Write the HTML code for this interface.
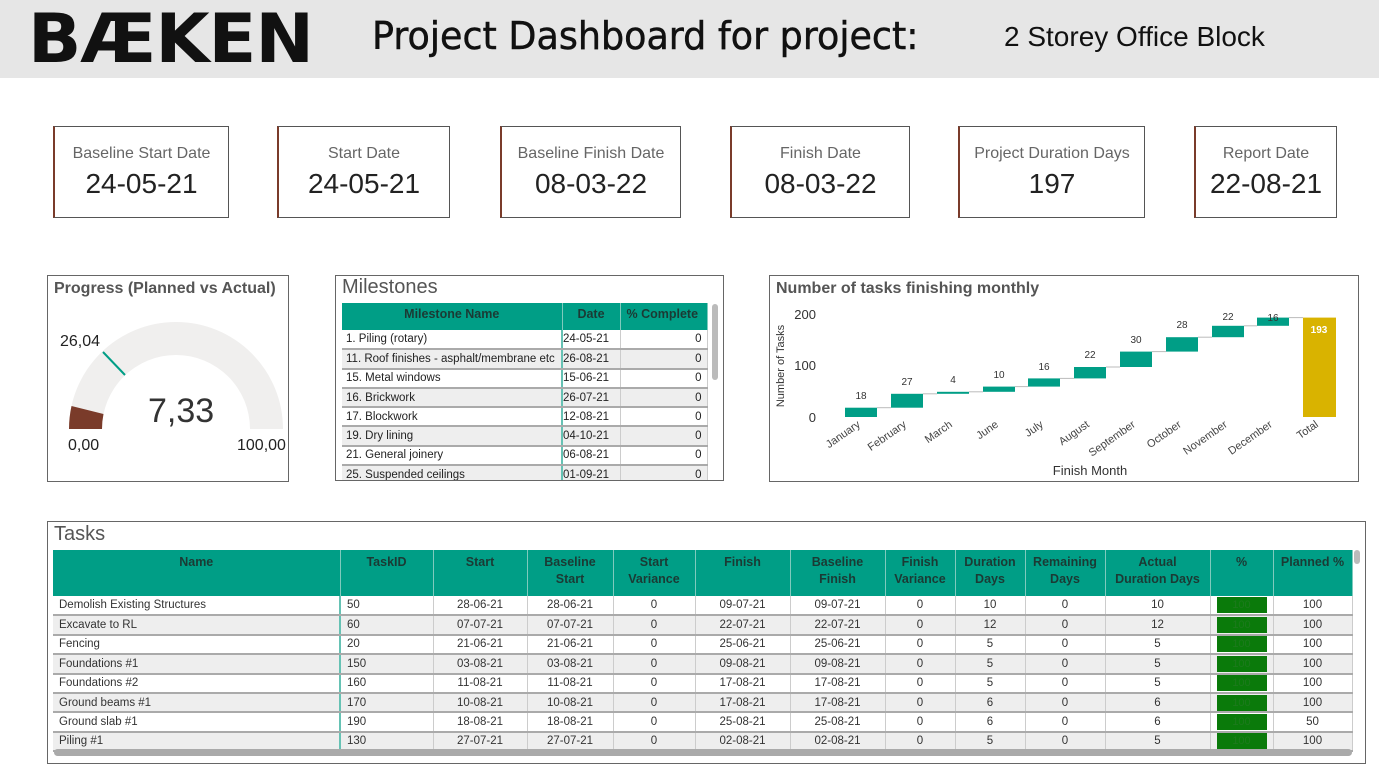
<!DOCTYPE html>
<html><head><meta charset="utf-8"><style>
*{margin:0;padding:0;box-sizing:border-box}
body{width:1379px;height:766px;background:#fff;position:relative;overflow:hidden;font-family:"Liberation Sans",sans-serif;color:#222}
.a{position:absolute}
.hdr{left:0;top:0;width:1379px;height:78px;background:#e6e6e6}
.kpi{border:1px solid #555;border-left:2px solid #7a3b2a;text-align:center}
.kpi .t{font-size:16px;color:#666;margin-top:18px}
.kpi .v{font-size:28px;color:#222;margin-top:5px}
.box{border:1px solid #666}
table{border-collapse:collapse;table-layout:fixed;position:absolute}
th{background:#009e86;color:#1b3a34;font-weight:bold;vertical-align:top;border-right:1px solid #7fcabd}
td{border-bottom:2px solid #aaa;border-right:1px solid #ccc;white-space:nowrap;overflow:hidden}
tr:nth-child(odd) td{background:#eee}
.tk th{font-size:12.5px;height:46px;padding-top:4px;line-height:17px}
.tk td{font-size:11.5px;height:19.4px;text-align:center;color:#333}
.tk td.l{text-align:left;padding-left:6px;border-right:2px solid #66c2b4}
.tk td.id{text-align:left;padding-left:6px}
.pc{padding:0 6px!important}
.pc div{background:#0a7a0a;color:#1d7a1d;height:16px;line-height:16px;font-size:11px}
.ms th{font-size:12.5px;height:27px;padding-top:4px}
.ms td{font-size:11.5px;height:19.3px}
</style></head><body>
<div class="a hdr"></div>
<div class="a" style="left:28px;top:0px;font-size:68px;font-weight:900;letter-spacing:-1px;color:#111;font-family:'DejaVu Sans',sans-serif;transform:scaleX(1.03);transform-origin:left">BÆKEN</div>
<div class="a" style="left:372px;top:14px;font-size:38px;color:#111;font-family:'DejaVu Sans',sans-serif;transform:scaleX(0.96);transform-origin:left;-webkit-text-stroke:0.5px #111">Project Dashboard for project:</div>
<div class="a" style="left:1004px;top:21px;font-size:28px;color:#111">2 Storey Office Block</div>

<div class="a kpi" style="left:53px;top:126px;width:176px;height:92px"><div class="t">Baseline Start Date</div><div class="v">24-05-21</div></div>
<div class="a kpi" style="left:277px;top:126px;width:173px;height:92px"><div class="t">Start Date</div><div class="v">24-05-21</div></div>
<div class="a kpi" style="left:500px;top:126px;width:181px;height:92px"><div class="t">Baseline Finish Date</div><div class="v">08-03-22</div></div>
<div class="a kpi" style="left:730px;top:126px;width:180px;height:92px"><div class="t">Finish Date</div><div class="v">08-03-22</div></div>
<div class="a kpi" style="left:958px;top:126px;width:187px;height:92px"><div class="t">Project Duration Days</div><div class="v">197</div></div>
<div class="a kpi" style="left:1194px;top:126px;width:143px;height:92px"><div class="t">Report Date</div><div class="v">22-08-21</div></div>

<!-- Gauge -->
<div class="a box" style="left:47px;top:275px;width:242px;height:207px"></div>
<div class="a" style="left:54px;top:280px;font-size:16px;color:#555;font-weight:bold">Progress (Planned vs Actual)</div>
<svg class="a" style="left:0;top:0" width="1379" height="766">
<path d="M69 429 A107 107 0 0 1 283 429 L250 429 A74 74 0 0 0 102 429 Z" fill="#f0efee"/>
<path d="M69 429 A107 107 0 0 1 71.5 406 L103.5 414 A74 74 0 0 0 102 429 Z" fill="#7a3b2a"/>
<line x1="103" y1="352" x2="125" y2="375" stroke="#009e86" stroke-width="2"/>
</svg>
<div class="a" style="left:60px;top:333px;font-size:16px">26,04</div>
<div class="a" style="left:148px;top:392px;font-size:34px;color:#333">7,33</div>
<div class="a" style="left:68px;top:437px;font-size:16px">0,00</div>
<div class="a" style="left:237px;top:437px;font-size:16px">100,00</div>

<!-- Milestones -->
<div class="a box" style="left:335px;top:275px;width:389px;height:206px;overflow:hidden">
<div class="a" style="left:6px;top:0px;font-size:20px;color:#555">Milestones</div>
<table class="ms" style="left:6px;top:27px;width:365px">
<colgroup><col style="width:220px"><col style="width:58px"><col style="width:87px"></colgroup>
<tr><th>Milestone Name</th><th>Date</th><th style="text-align:left;padding-left:6px">% Complete</th></tr>
<tr><td style="padding-left:4px;border-right:2px solid #66c2b4">1. Piling (rotary)</td><td>24-05-21</td><td style="text-align:right;padding-right:5px">0</td></tr>
<tr><td style="padding-left:4px;border-right:2px solid #66c2b4">11. Roof finishes - asphalt/membrane etc</td><td>26-08-21</td><td style="text-align:right;padding-right:5px">0</td></tr>
<tr><td style="padding-left:4px;border-right:2px solid #66c2b4">15. Metal windows</td><td>15-06-21</td><td style="text-align:right;padding-right:5px">0</td></tr>
<tr><td style="padding-left:4px;border-right:2px solid #66c2b4">16. Brickwork</td><td>26-07-21</td><td style="text-align:right;padding-right:5px">0</td></tr>
<tr><td style="padding-left:4px;border-right:2px solid #66c2b4">17. Blockwork</td><td>12-08-21</td><td style="text-align:right;padding-right:5px">0</td></tr>
<tr><td style="padding-left:4px;border-right:2px solid #66c2b4">19. Dry lining</td><td>04-10-21</td><td style="text-align:right;padding-right:5px">0</td></tr>
<tr><td style="padding-left:4px;border-right:2px solid #66c2b4">21. General joinery</td><td>06-08-21</td><td style="text-align:right;padding-right:5px">0</td></tr>
<tr><td style="padding-left:4px;border-right:2px solid #66c2b4">25. Suspended ceilings</td><td>01-09-21</td><td style="text-align:right;padding-right:5px">0</td></tr>
</table>
<div class="a" style="left:376px;top:28px;width:6px;height:76px;background:#bbb;border-radius:3px"></div>
</div>

<!-- Waterfall -->
<div class="a box" style="left:769px;top:275px;width:590px;height:207px"></div>
<div class="a" style="left:776px;top:280px;font-size:16px;color:#555;font-weight:bold">Number of tasks finishing monthly</div>
<svg class="a" style="left:0;top:0" width="1379" height="766" font-family="Liberation Sans" font-size="10">
<g fill="#009e86">
<rect x="845" y="407.7" width="32" height="9.3"/>
<rect x="891" y="393.8" width="32" height="13.9"/>
<rect x="937" y="391.8" width="32" height="2"/>
<rect x="983" y="386.6" width="32" height="5.2"/>
<rect x="1028" y="378.4" width="32" height="8.2"/>
<rect x="1074" y="367" width="32" height="11.4"/>
<rect x="1120" y="351.6" width="32" height="15.4"/>
<rect x="1166" y="337.2" width="32" height="14.4"/>
<rect x="1212" y="325.8" width="32" height="11.4"/>
<rect x="1257" y="317.6" width="32" height="8.2"/>
</g>
<rect x="1303" y="317.6" width="33" height="99.4" fill="#d9b300"/>
<g stroke="#bbb" stroke-width="1">
<line x1="877" y1="407.7" x2="891" y2="407.7"/><line x1="923" y1="393.8" x2="937" y2="393.8"/>
<line x1="969" y1="391.8" x2="983" y2="391.8"/><line x1="1015" y1="386.6" x2="1028" y2="386.6"/>
<line x1="1060" y1="378.4" x2="1074" y2="378.4"/><line x1="1106" y1="367" x2="1120" y2="367"/>
<line x1="1152" y1="351.6" x2="1166" y2="351.6"/><line x1="1198" y1="337.2" x2="1212" y2="337.2"/>
<line x1="1244" y1="325.8" x2="1257" y2="325.8"/><line x1="1289" y1="317.6" x2="1303" y2="317.6"/>
</g>
<g fill="#333" text-anchor="middle">
<text x="861" y="399">18</text><text x="907" y="385">27</text><text x="953" y="383">4</text>
<text x="999" y="378">10</text><text x="1044" y="370">16</text><text x="1090" y="358">22</text>
<text x="1136" y="343">30</text><text x="1182" y="328">28</text><text x="1228" y="320">22</text>
<text x="1273" y="321">16</text>
<text x="1319" y="333" fill="#fff" font-weight="bold">193</text>
</g>
<g fill="#333" font-size="13" text-anchor="end">
<text x="816" y="319">200</text><text x="816" y="370">100</text><text x="816" y="422">0</text>
</g>
<text transform="translate(784 366) rotate(-90)" font-size="11" fill="#333" text-anchor="middle">Number of Tasks</text>
<g fill="#444" font-size="11" text-anchor="end">
<text transform="translate(861 426) rotate(-35)">January</text>
<text transform="translate(907 426) rotate(-35)">February</text>
<text transform="translate(953 426) rotate(-35)">March</text>
<text transform="translate(999 426) rotate(-35)">June</text>
<text transform="translate(1044 426) rotate(-35)">July</text>
<text transform="translate(1090 426) rotate(-35)">August</text>
<text transform="translate(1136 426) rotate(-35)">September</text>
<text transform="translate(1182 426) rotate(-35)">October</text>
<text transform="translate(1228 426) rotate(-35)">November</text>
<text transform="translate(1273 426) rotate(-35)">December</text>
<text transform="translate(1319 426) rotate(-35)">Total</text>
</g>
<text x="1090" y="475" font-size="13" fill="#333" text-anchor="middle">Finish Month</text>
</svg>

<!-- Tasks -->
<div class="a box" style="left:47px;top:521px;width:1319px;height:243px"></div>
<div class="a" style="left:54px;top:523px;font-size:20px;color:#555">Tasks</div>
<table class="tk" style="left:53px;top:550px;width:1299px">
<colgroup><col style="width:287px"><col style="width:93px"><col style="width:94px"><col style="width:86px"><col style="width:82px"><col style="width:95px"><col style="width:95px"><col style="width:70px"><col style="width:70px"><col style="width:80px"><col style="width:105px"><col style="width:63px"><col style="width:79px"></colgroup>
<tr><th>Name</th><th>TaskID</th><th>Start</th><th>Baseline<br>Start</th><th>Start<br>Variance</th><th>Finish</th><th>Baseline<br>Finish</th><th>Finish<br>Variance</th><th>Duration<br>Days</th><th>Remaining<br>Days</th><th>Actual<br>Duration Days</th><th>%</th><th>Planned %</th></tr>
<tr><td class="l">Demolish Existing Structures</td><td class="id">50</td><td>28-06-21</td><td>28-06-21</td><td>0</td><td>09-07-21</td><td>09-07-21</td><td>0</td><td>10</td><td>0</td><td>10</td><td class="pc"><div>100</div></td><td>100</td></tr>
<tr><td class="l">Excavate to RL</td><td class="id">60</td><td>07-07-21</td><td>07-07-21</td><td>0</td><td>22-07-21</td><td>22-07-21</td><td>0</td><td>12</td><td>0</td><td>12</td><td class="pc"><div>100</div></td><td>100</td></tr>
<tr><td class="l">Fencing</td><td class="id">20</td><td>21-06-21</td><td>21-06-21</td><td>0</td><td>25-06-21</td><td>25-06-21</td><td>0</td><td>5</td><td>0</td><td>5</td><td class="pc"><div>100</div></td><td>100</td></tr>
<tr><td class="l">Foundations #1</td><td class="id">150</td><td>03-08-21</td><td>03-08-21</td><td>0</td><td>09-08-21</td><td>09-08-21</td><td>0</td><td>5</td><td>0</td><td>5</td><td class="pc"><div>100</div></td><td>100</td></tr>
<tr><td class="l">Foundations #2</td><td class="id">160</td><td>11-08-21</td><td>11-08-21</td><td>0</td><td>17-08-21</td><td>17-08-21</td><td>0</td><td>5</td><td>0</td><td>5</td><td class="pc"><div>100</div></td><td>100</td></tr>
<tr><td class="l">Ground beams #1</td><td class="id">170</td><td>10-08-21</td><td>10-08-21</td><td>0</td><td>17-08-21</td><td>17-08-21</td><td>0</td><td>6</td><td>0</td><td>6</td><td class="pc"><div>100</div></td><td>100</td></tr>
<tr><td class="l">Ground slab #1</td><td class="id">190</td><td>18-08-21</td><td>18-08-21</td><td>0</td><td>25-08-21</td><td>25-08-21</td><td>0</td><td>6</td><td>0</td><td>6</td><td class="pc"><div>100</div></td><td>50</td></tr>
<tr><td class="l">Piling #1</td><td class="id">130</td><td>27-07-21</td><td>27-07-21</td><td>0</td><td>02-08-21</td><td>02-08-21</td><td>0</td><td>5</td><td>0</td><td>5</td><td class="pc"><div>100</div></td><td>100</td></tr>
</table>
<div class="a" style="left:54px;top:749px;width:1298px;height:7px;background:#aaa;border-radius:4px"></div>
<div class="a" style="left:1354px;top:550px;width:6px;height:14px;background:#bbb;border-radius:3px"></div>
</body></html>
